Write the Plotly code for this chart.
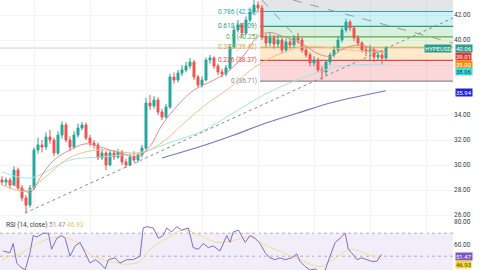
import plotly.graph_objects as go

# ---------------- data ----------------
idx = list(range(97))
opens = [28.80, 28.64, 28.80, 28.40, 29.60, 28.16, 27.36, 26.80, 28.16, 31.20,
         31.60, 31.44, 32.24, 32.00, 30.96, 32.40, 33.20, 32.00, 31.44, 32.40,
         32.96, 33.20, 32.16, 31.76, 31.60, 30.56, 30.96, 30.00, 30.96, 30.64,
         31.04, 30.24, 30.00, 30.64, 30.40, 30.80, 31.36, 34.96, 34.72, 35.20,
         34.24, 33.84, 34.64, 37.04, 36.80, 37.36, 37.60, 37.92, 38.24, 37.04,
         36.40, 36.80, 38.40, 38.56, 37.92, 37.44, 37.28, 37.76, 39.44, 40.80,
         41.20, 40.56, 41.60, 42.24, 42.80, 42.56, 40.24, 39.76, 40.16, 39.68,
         40.00, 39.20, 39.84, 39.60, 40.16, 40.00, 39.20, 38.80, 38.16, 38.40,
         37.60, 37.44, 38.24, 38.80, 39.20, 40.00, 40.80, 41.44, 40.96, 40.16,
         39.76, 39.20, 39.04, 39.20, 38.64, 38.80, 38.56]
closes = [28.64, 28.80, 28.40, 29.60, 28.16, 27.36, 26.80, 28.16, 31.20, 31.60,
          31.44, 32.24, 32.00, 30.96, 32.40, 33.20, 32.00, 31.44, 32.40, 32.96,
          33.20, 32.16, 31.76, 31.60, 30.56, 30.96, 30.00, 30.96, 30.64, 31.04,
          30.24, 30.00, 30.64, 30.40, 30.80, 31.36, 34.96, 34.72, 35.20, 34.24,
          33.84, 34.64, 37.04, 36.80, 37.36, 37.60, 37.92, 38.24, 37.04, 36.40,
          36.80, 38.40, 38.56, 37.92, 37.44, 37.28, 37.76, 39.44, 40.80, 41.20,
          40.56, 41.60, 42.24, 42.80, 42.56, 40.24, 39.76, 40.16, 39.68, 40.00,
          39.20, 39.84, 39.60, 40.16, 40.00, 39.20, 38.80, 38.16, 38.40, 37.60,
          37.44, 38.24, 38.80, 39.20, 40.00, 40.80, 41.44, 40.96, 40.16, 39.76,
          39.20, 39.04, 39.20, 38.64, 38.80, 38.56, 39.36]
highs = [29.10, 29.00, 29.00, 29.90, 29.80, 28.40, 27.60, 28.40, 31.40, 32.20,
         32.00, 32.60, 32.80, 32.20, 32.70, 33.50, 33.40, 32.30, 32.70, 33.30,
         33.46, 33.40, 32.40, 32.00, 31.80, 31.30, 31.10, 31.20, 31.20, 31.30,
         31.20, 30.50, 30.90, 31.10, 31.00, 31.60, 35.36, 35.60, 35.50, 35.40,
         34.50, 34.90, 37.30, 37.40, 37.60, 38.00, 38.24, 38.56, 38.40, 37.20,
         37.10, 38.60, 38.80, 38.70, 38.10, 37.70, 38.00, 39.70, 41.10, 41.60,
         41.40, 41.90, 42.60, 43.20, 43.10, 42.80, 40.50, 40.60, 40.40, 40.40,
         40.20, 40.10, 40.10, 40.40, 40.56, 40.20, 39.40, 39.00, 38.70, 38.60,
         37.90, 38.40, 39.00, 39.50, 40.30, 41.10, 41.70, 41.60, 41.10, 40.40,
         39.90, 39.50, 39.60, 39.40, 39.10, 39.00, 39.50]
lows = [28.40, 28.30, 28.10, 28.30, 28.00, 27.10, 26.16, 26.60, 28.00, 30.90,
        31.00, 31.20, 31.70, 30.70, 30.80, 32.10, 31.80, 31.10, 31.30, 32.20,
        32.80, 32.00, 31.50, 31.30, 30.40, 30.40, 29.60, 29.90, 30.40, 30.50,
        30.00, 29.76, 29.90, 30.20, 30.20, 30.60, 31.20, 34.40, 34.50, 34.00,
        33.60, 33.70, 34.50, 36.50, 36.60, 37.10, 37.40, 37.70, 36.80, 36.20,
        36.20, 36.70, 38.10, 37.70, 37.20, 37.00, 37.10, 37.60, 39.30, 40.60,
        40.20, 40.40, 41.40, 42.00, 42.20, 40.00, 39.40, 39.50, 39.30, 39.40,
        38.90, 39.00, 39.30, 39.40, 39.70, 39.00, 38.60, 37.90, 37.90, 37.36,
        36.80, 37.20, 38.00, 38.60, 39.00, 39.80, 40.60, 40.70, 39.90, 39.50,
        39.00, 38.70, 38.40, 38.24, 38.40, 38.00, 38.40]

# moving averages
ma20_x = [1, 5, 7, 10, 13, 17, 21, 25, 29, 34, 37, 40, 44, 48, 53, 57, 61, 64, 67, 71, 75, 79, 82, 86, 90, 93, 96]
ma20_y = [28.70, 28.10, 27.80, 29.20, 30.40, 31.20, 31.70, 31.40, 31.00, 30.70, 31.50, 33.20, 34.80, 36.00,
          36.80, 37.60, 39.00, 40.30, 40.60, 40.20, 39.70, 38.90, 38.70, 39.40, 39.60, 39.20, 39.01]
ma50_x = [0, 6, 10, 17, 24, 31, 35, 40, 45, 50, 57, 64, 72, 77, 84, 90, 96]
ma50_y = [28.40, 27.90, 28.80, 30.60, 31.20, 31.00, 30.96, 31.80, 33.20, 34.60, 36.20, 38.00, 39.20, 39.50,
          39.30, 39.10, 39.00]
ma100_x = [0, 7, 17, 25, 35, 42, 50, 57, 66, 77, 85, 96]
ma100_y = [29.44, 28.96, 30.40, 30.64, 31.04, 31.80, 32.70, 34.00, 35.70, 37.20, 37.90, 38.06]
ma200_x = [40, 50, 58, 66, 74, 83, 96]
ma200_y = [30.56, 31.52, 32.40, 33.36, 34.16, 35.04, 35.94]

# fibonacci retracement
fib_ratios = ["0", "0.236", "0.382", "0.5", "0.618", "0.786", "1"]
fib_prices = [36.71, 38.37, 39.42, 40.25, 41.09, 42.28, 43.80]
fib_start = 64.5

# trend lines (drawings)
trend_up_x = [5.75, 112.75]
trend_up_y = [26.16, 41.76]
dash1_x = [65.0, 72.5]
dash1_y = [43.2, 40.6]
dash2_x = [72.75, 112.75]
dash2_y = [43.2, 39.76]

# RSI
rsi_x = [0.3, 2.0, 2.8, 3.7, 4.5, 5.8, 7.0, 7.8, 8.7, 10.3, 11.6, 12.4, 13.7, 14.9, 15.8, 17.0, 18.3, 19.5,
         20.8, 22.0, 23.3, 24.5, 25.8, 26.6, 28.3, 29.5, 31.2, 32.8, 34.5, 35.3, 36.2, 37.8, 39.1, 40.3,
         41.2, 42.4, 43.7, 44.9, 46.6, 47.8, 49.1, 50.3, 51.6, 52.8, 54.5, 56.2, 57.0, 57.8, 59.1, 59.9,
         60.8, 62.0, 63.3, 64.5, 65.8, 67.0, 68.3, 69.5, 70.8, 72.4, 73.7, 74.5, 75.8, 77.0, 78.3, 79.5,
         80.8, 82.0, 83.3, 84.5, 85.8, 86.6, 87.4, 88.7, 89.9, 91.2, 92.4, 93.7, 94.9]
rsi_v = [54.5, 53, 61, 44, 41, 38, 53, 68, 66.6, 70, 70, 56, 65.5, 68, 65.5, 50, 59, 62,
         53, 44, 47, 44, 39, 47, 48.5, 44, 47, 47, 50, 74.5, 75.7, 74.5, 65.5, 68,
         74.5, 71, 75.7, 72.7, 74.5, 57.5, 56, 61, 57.5, 59, 54.5, 68, 62, 71, 72.7, 68,
         62, 68, 65.5, 61, 53, 48.5, 47, 48.5, 47, 48.5, 52, 45.5, 41, 38, 39, 36,
         38, 50, 62, 65.5, 70, 56, 53, 47, 48.5, 47, 45.5, 45.5, 51.47]
rsima_x = [0, 2, 4.5, 7.8, 12, 15.3, 18.7, 22.8, 27, 31.2, 34.5, 37, 41.2, 45.3, 49.5, 53.7, 57.8, 62,
           66.2, 70.3, 74.5, 79.5, 82.8, 87, 91.2, 94.9]
rsima_v = [47, 50, 52, 59, 65.5, 66.6, 62, 50, 45.5, 43, 45.5, 56, 65.5, 72.7, 68, 62, 63.6, 66.6,
           59, 53, 47, 41, 47, 56, 52, 46.93]

price_ticks = [26, 28, 30, 32, 34, 36, 38, 40, 42]
price_tick_text = ["26.00", "28.00", "30.00", "32.00", "34.00", "", "", "40.00", "42.00"]
rsi_ticks = [40, 60, 80]

# ---------------- figure ----------------
FONT = "Roboto"
fig = go.Figure()

fig.add_trace(go.Scatter(x=ma200_x, y=ma200_y, mode="lines", line=dict(color="#7477c9", width=1.2, shape="spline"),
                         xaxis="x", yaxis="y", hoverinfo="skip"))
fig.add_trace(go.Scatter(x=ma100_x, y=ma100_y, mode="lines", line=dict(color="#a6e6e6", width=1, shape="spline"),
                         xaxis="x", yaxis="y", hoverinfo="skip"))
fig.add_trace(go.Scatter(x=ma50_x, y=ma50_y, mode="lines", line=dict(color="#f2c08c", width=1, shape="spline"),
                         xaxis="x", yaxis="y", hoverinfo="skip"))
fig.add_trace(go.Scatter(x=ma20_x, y=ma20_y, mode="lines", line=dict(color="#e88080", width=0.9, shape="spline"),
                         xaxis="x", yaxis="y", hoverinfo="skip"))
fig.add_trace(go.Scatter(x=trend_up_x, y=trend_up_y, mode="lines", line=dict(color="#8a8a8a", width=1, dash="dot"),
                         xaxis="x", yaxis="y", hoverinfo="skip"))
fig.add_trace(go.Scatter(x=dash1_x, y=dash1_y, mode="lines", line=dict(color="#9a9a9a", width=1, dash="dash"),
                         xaxis="x", yaxis="y", hoverinfo="skip"))
fig.add_trace(go.Scatter(x=dash2_x, y=dash2_y, mode="lines", line=dict(color="#9a9a9a", width=1, dash="dash"),
                         xaxis="x", yaxis="y", hoverinfo="skip"))

fig.add_trace(go.Candlestick(x=idx, open=opens, high=highs, low=lows, close=closes,
                             increasing=dict(line=dict(color="#26a69a", width=1), fillcolor="#26a69a"),
                             decreasing=dict(line=dict(color="#ef5350", width=1), fillcolor="#ef5350"),
                             whiskerwidth=0, xaxis="x", yaxis="y", hoverinfo="skip"))

fig.add_trace(go.Scatter(x=rsima_x, y=rsima_v, mode="lines", line=dict(color="#efe08c", width=1, shape="spline"),
                         xaxis="x", yaxis="y2", hoverinfo="skip"))
fig.add_trace(go.Scatter(x=rsi_x, y=rsi_v, mode="lines", line=dict(color="#7e6fc8", width=1),
                         xaxis="x", yaxis="y2", hoverinfo="skip"))

shapes = []
fill_cols = ["rgba(242,54,69,0.20)", "rgba(255,152,0,0.20)", "rgba(139,195,74,0.20)",
             "rgba(76,175,80,0.20)", "rgba(0,188,212,0.20)", "rgba(120,123,134,0.20)"]
line_cols = ["#8c8c8c", "#e04848", "#e0a540", "#4caf50", "#2e9c7a", "#26a6b0", "#8c8c8c"]
for k in range(6):
    shapes.append(dict(type="rect", xref="x", yref="y", x0=fib_start, x1=112.75,
                       y0=fib_prices[k], y1=fib_prices[k + 1], fillcolor=fill_cols[k],
                       line=dict(width=0), layer="between"))
for k in range(6):
    shapes.append(dict(type="line", xref="x", yref="y", x0=fib_start, x1=112.75,
                       y0=fib_prices[k], y1=fib_prices[k], line=dict(color=line_cols[k], width=1.2),
                       layer="between"))
# current price line
shapes.append(dict(type="line", xref="paper", yref="y", x0=0, x1=1, y0=closes[-1], y1=closes[-1],
                   line=dict(color="#c4c4c4", width=0.8), layer="between"))
# RSI band + levels
shapes.append(dict(type="rect", xref="paper", yref="y2", x0=0, x1=1, y0=30, y1=70,
                   fillcolor="rgba(126,87,194,0.10)", line=dict(width=0), layer="between"))
for lv in (70, 50):
    shapes.append(dict(type="line", xref="paper", yref="y2", x0=0, x1=1, y0=lv, y1=lv,
                       line=dict(color="#a0a0a8", width=0.8, dash="dot"), layer="between"))

ann = []
for k in range(6):
    ann.append(dict(x=fib_start, y=fib_prices[k], xref="x", yref="y", xanchor="right", yanchor="middle",
                    xshift=-1, text=f"{fib_ratios[k]} ({fib_prices[k]:.2f})", showarrow=False,
                    font=dict(family=FONT, size=6.5, color=line_cols[k])))


def lab(text, ypix, bg, fg="#ffffff", xs=2, xa="left", x=1.0):
    return dict(x=x, y=1 - ypix / 270, xref="paper", yref="paper", xanchor=xa, yanchor="middle",
                xshift=xs, text=text, showarrow=False, bgcolor=bg, borderpad=0,
                font=dict(family=FONT, size=6, color=fg))


ann += [
    lab("HYPEUSD", 49, "#2a9d8f", xs=-1, xa="right"),
    lab("40.06", 49, "#2a9d8f"),
    lab("39.01", 56.5, "#e53935"),
    lab("39.00", 64, "#fb8c00"),
    lab("38.06", 72, "#40e0e0", fg="#1a3a3a"),
    lab("35.94", 92, "#2323d6"),
    lab("51.47", 256, "#7e57c2"),
    lab("46.93", 264.5, "#f2d645", fg="#5a4a00"),
    dict(x=0, y=1 - 225 / 270, xref="paper", yref="paper", xanchor="left", yanchor="middle", xshift=4,
         showarrow=False, font=dict(family=FONT, size=6.5, color="#333a44"),
         text="RSI (14, close) <span style='color:#8f86b8'>51.47</span> <span style='color:#e0c84a'>46.93</span>"),
]

grid_x = [8, 22, 36, 50, 64, 78, 92, 106]

fig.update_layout(
    width=480, height=270, margin=dict(l=0, r=27, t=0, b=0),
    paper_bgcolor="white", plot_bgcolor="white", showlegend=False,
    shapes=shapes, annotations=ann,
    xaxis=dict(range=[-0.5, 112.75], showticklabels=False, tickvals=grid_x, showgrid=True,
               gridcolor="#f1f3f6", gridwidth=1, zeroline=False, rangeslider=dict(visible=False),
               anchor="y2", fixedrange=True, ticks=""),
    yaxis=dict(domain=[1 - 218 / 270, 1], range=[25.76, 43.2], side="right",
               tickvals=price_ticks, ticktext=price_tick_text, showgrid=True,
               gridcolor="#f3f4f6", zeroline=False, ticks="", anchor="x",
               tickfont=dict(family=FONT, size=6.5, color="#333a44")),
    yaxis2=dict(domain=[0, 1 - 218 / 270], range=[38.0, 83.2], side="right",
                tickvals=rsi_ticks, ticktext=[f"{v:.2f}" for v in rsi_ticks], showgrid=False,
                zeroline=False, ticks="", anchor="x",
                tickfont=dict(family=FONT, size=6.5, color="#333a44")),
)

fig.write_html("out.html")
